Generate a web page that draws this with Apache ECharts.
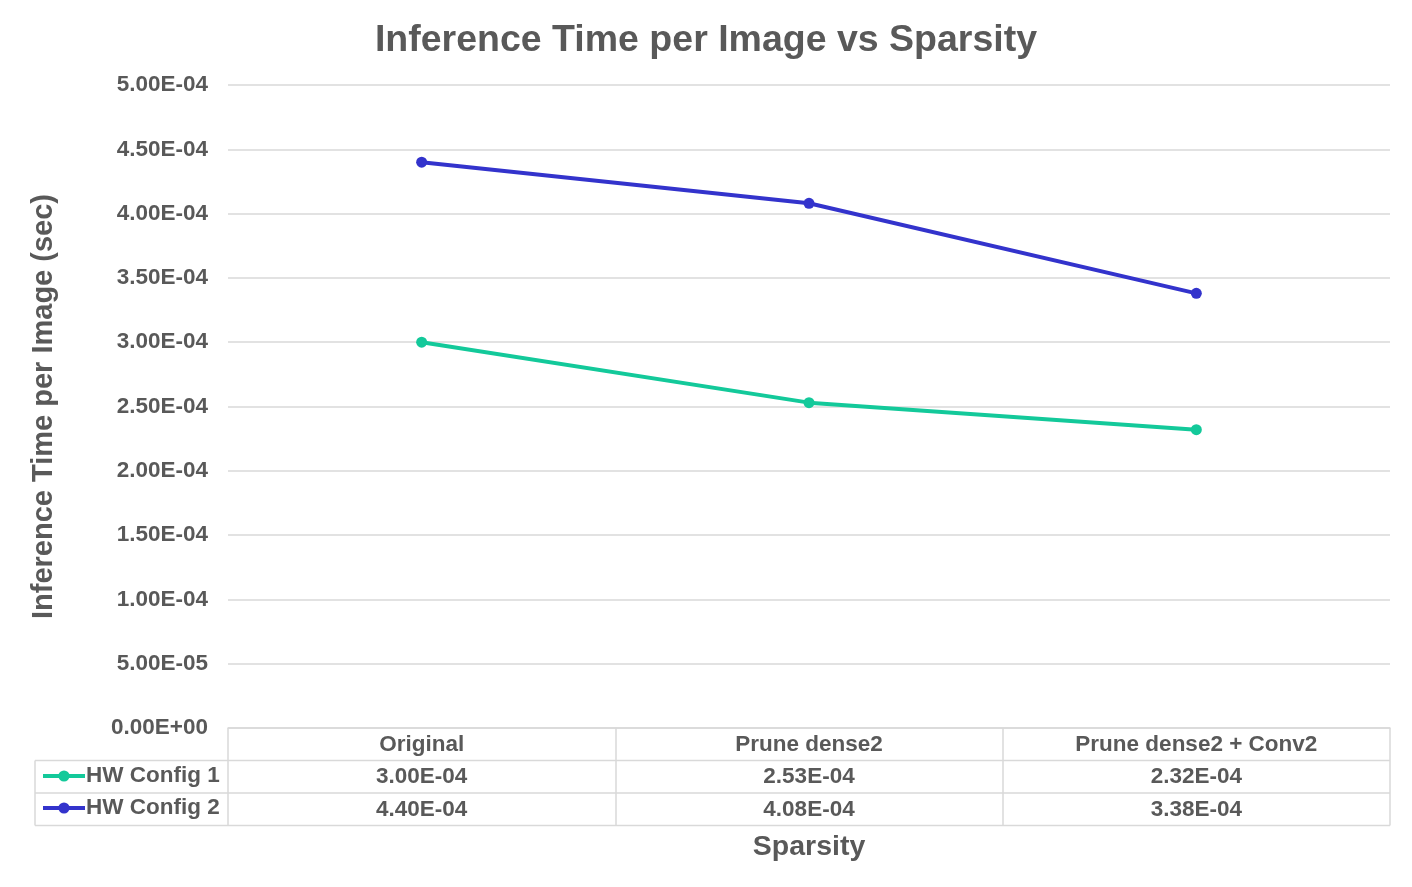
<!DOCTYPE html>
<html>
<head>
<meta charset="utf-8" />
<title>Inference Time per Image vs Sparsity</title>
<script src="https://cdn.jsdelivr.net/npm/echarts@6/dist/echarts.min.js"></script>
<style>
html, body { margin: 0; padding: 0; background: #fff; }
#chart { width: 1412px; height: 887px; }
</style>
</head>
<body>
<div id="chart"></div>
<script>
var categories = ['Original', 'Prune dense2', 'Prune dense2 + Conv2'];
var seriesNames = ['HW Config 1', 'HW Config 2'];
var config1 = [3.00e-4, 2.53e-4, 2.32e-4];
var config2 = [4.40e-4, 4.08e-4, 3.38e-4];
var colors = ['#13C99A', '#3333CC'];

// Excel style scientific format: 3.00E-04
function sci(v) {
	var s = Number(v).toExponential(2).split('e');
	var exp = parseInt(s[1], 10);
	var sign = exp < 0 ? '-' : '+';
	var a = Math.abs(exp);
	return s[0] + 'E' + sign + (a < 10 ? '0' + a : a);
}

var font = 'Liberation Sans, Arial, sans-serif';
var grey = '#595959';
var lineCol = '#D9D9D9';
var labelSize = 22.5;
// table geometry (grid box)
var gLeft = 228, gRight = 1390, gBottom = 728, rowH = 32.5, tableLeft = 35;

var chart = echarts.init(document.getElementById('chart'));

function rowAxis(idx, data) {
	return {
		type: 'category',
		data: categories,
		position: 'bottom',
		offset: rowH * idx,
		axisLine: { show: false },
		axisTick: { show: false },
		axisLabel: {
			margin: 5,
			color: grey,
			fontFamily: font,
			fontWeight: 'bold',
			fontSize: labelSize,
			formatter: function (v, i) { return sci(data[i]); }
		}
	};
}

var hLines = [];
for (var r = 1; r <= 3; r++) {
	hLines.push({
		type: 'line',
		shape: { x1: tableLeft, y1: gBottom + rowH * r, x2: gRight, y2: gBottom + rowH * r },
		style: { stroke: lineCol, lineWidth: 1.5 }
	});
}
hLines.push({
	type: 'line',
	shape: { x1: tableLeft, y1: gBottom + rowH, x2: tableLeft, y2: gBottom + rowH * 3 },
	style: { stroke: lineCol, lineWidth: 1.5 }
});

var option = {
	backgroundColor: '#fff',
	animation: false,
	color: colors,
	title: {
		text: 'Inference Time per Image vs Sparsity',
		left: 'center',
		top: 17,
		textStyle: { color: grey, fontFamily: font, fontWeight: 'bold', fontSize: 37.5 }
	},
	legend: {
		orient: 'vertical',
		left: 36,
		top: gBottom + rowH - 1,
		itemWidth: 42,
		itemHeight: 14,
		itemGap: 9,
		data: seriesNames,
		lineStyle: { width: 4 },
		textStyle: { color: grey, fontFamily: font, fontWeight: 'bold', fontSize: 22.5, padding: [0, 0, 0, -4] }
	},
	grid: { left: gLeft, right: 1412 - gRight, top: 85, bottom: 887 - gBottom },
	xAxis: [
		{
			type: 'category',
			data: categories,
			name: 'Sparsity',
			nameLocation: 'middle',
			nameGap: 105,
			nameTextStyle: { color: grey, fontFamily: font, fontWeight: 'bold', fontSize: 28.5 },
			axisLine: { lineStyle: { color: lineCol, width: 1.5 } },
			axisTick: { show: true, length: rowH * 3, lineStyle: { color: lineCol, width: 1.5 } },
			axisLabel: { margin: 5, color: grey, fontFamily: font, fontWeight: 'bold', fontSize: labelSize }
		},
		rowAxis(1, config1),
		rowAxis(2, config2)
	],
	yAxis: {
		type: 'value',
		min: 0,
		max: 5e-4,
		interval: 5e-5,
		name: 'Inference Time per Image (sec)',
		nameLocation: 'middle',
		nameGap: 170,
		nameTextStyle: { color: grey, fontFamily: font, fontWeight: 'bold', fontSize: 29 },
		axisLine: { show: false },
		axisTick: { show: false },
		axisLabel: {
			margin: 20,
			color: grey,
			fontFamily: font,
			fontWeight: 'bold',
			fontSize: labelSize,
			formatter: function (v) { return sci(v); }
		},
		splitLine: { lineStyle: { color: lineCol, width: 1.5 } }
	},
	series: [
		{
			name: seriesNames[0],
			type: 'line',
			data: config1,
			symbol: 'circle',
			symbolSize: 11,
			lineStyle: { width: 4 }
		},
		{
			name: seriesNames[1],
			type: 'line',
			data: config2,
			symbol: 'circle',
			symbolSize: 11,
			lineStyle: { width: 4 }
		}
	],
	graphic: hLines
};

chart.setOption(option);
</script>
</body>
</html>
